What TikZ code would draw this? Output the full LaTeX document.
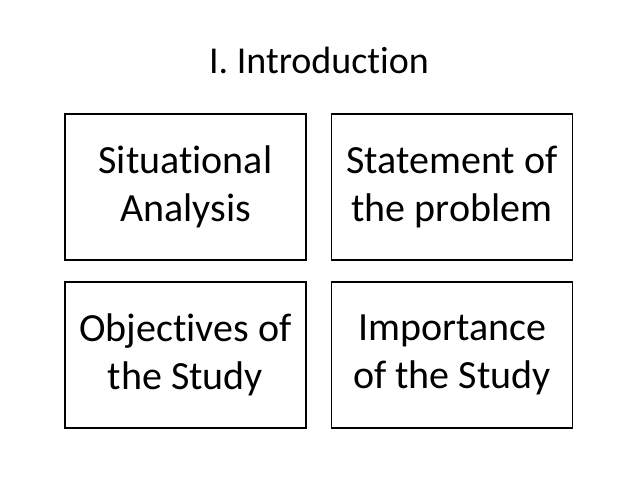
\documentclass[tikz,border=0pt]{standalone}
\usepackage{fontspec}
\setmainfont{Carlito}[Ligatures={NoCommon,NoRare,NoContextual}]
\begin{document}
\begin{tikzpicture}[x=1pt,y=-1pt,
  cell/.style={draw,line width=1.3pt,minimum width=241pt,minimum height=146pt,align=center,inner sep=0pt,font=\fontsize{40}{48}\selectfont}]
\useasboundingbox (0,0) rectangle (638,479);
\node (t) at (319,60) {\fontsize{38}{44}\selectfont I. Introduction};
\node[cell] (a) at (185.5,187) {Situational\\Analysis};
\node[cell] (b) at (452,187) {Statement of\\the problem};
\node[cell] (c) at (185.5,355) {Objectives of\\the Study};
\node[cell] (d) at (452,355) {Importance\\of the Study};
\end{tikzpicture}
\end{document}
